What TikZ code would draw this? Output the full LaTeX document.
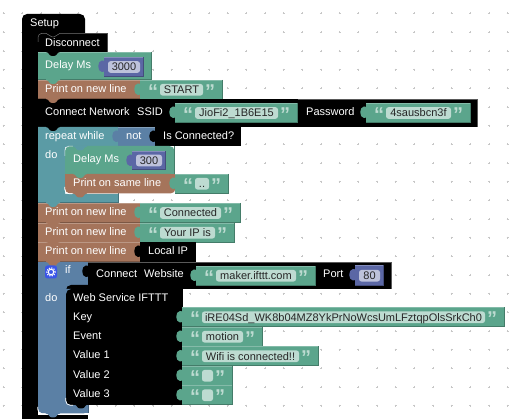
\documentclass[tikz,border=0pt]{standalone}
\usepackage{fontspec}
\setmainfont{Liberation Sans}
\definecolor{cStr}{HTML}{5BA58C}
\definecolor{cLoop}{HTML}{5BA58C}
\definecolor{cNum}{HTML}{5B67A5}
\definecolor{cPrint}{HTML}{A5745B}
\definecolor{cRep}{HTML}{5B9BA5}
\definecolor{cLog}{HTML}{5B80A5}
\definecolor{cFieldG}{HTML}{BDDBD1}
\definecolor{cFieldP}{HTML}{BDC2DB}
\definecolor{cGear}{HTML}{3A55E8}
\tikzset{
  wt/.style={anchor=base west,inner sep=0pt,text=white,font=\fontsize{11}{13}\selectfont},
  ft/.style={anchor=base,inner sep=0pt,text=black!85,font=\fontsize{11}{13}\selectfont},
  qt/.style={anchor=base,inner sep=0pt,text=cFieldG,font=\fontsize{20}{20}\selectfont\bfseries},
  griddot/.style={draw=black!22,line width=0.5pt}
}
\newcommand{\blk}[5]{%
  \fill[#1] (#2,#3) rectangle (#4,#5);
  \draw[#1!75!white,line width=0.7pt] (#2,#3+.3) -- (#4,#3+.3);
  \draw[#1!75!black,line width=0.7pt] (#4-.3,#3) -- (#4-.3,#5-.3) -- (#2,#5-.3);
}
\newcommand{\nt}[3]{%
  \fill[#1] ({#2+8},{#3-1}) -- ({#2+8},#3) .. controls ({#2+11},#3) and ({#2+11},{#3+4}) .. ({#2+14},{#3+4}) -- ({#2+16},{#3+4}) .. controls ({#2+19},{#3+4}) and ({#2+19},#3) .. ({#2+22},#3) -- ({#2+22},{#3-1}) -- cycle;
}
\newcommand{\tb}[3]{%
  \fill[#1] ({#2+.5},{#3+4}) -- ({#2-2},{#3+3.5}) .. controls ({#2-7},{#3+3.5}) and ({#2-7},{#3+15}) .. ({#2-2},{#3+15}) -- ({#2+.5},{#3+14.5}) -- cycle;
}
% name, left, top, height, right, text
\newcommand{\strblk}[6]{%
  \tb{cStr}{#2}{#3}
  \blk{cStr}{#2}{#3}{#5}{#3+#4}
  \fill[cFieldG,rounded corners=2.5pt] ({#2+20},{#3+#4/2-5.8}) rectangle ({#5-20},{#3+#4/2+5.8});
  \node[qt] (#1o) at ({#2+13},{#3+#4/2+8.5}) {“};
  \node[qt] (#1c) at ({#5-13},{#3+#4/2+8.5}) {”};
  \node[ft] (#1) at ({(#2+#5)/2},{#3+#4/2+4}) {#6};
}
% name, left, top, right, bottom, text
\newcommand{\numblk}[6]{%
  \tb{cNum}{#2}{#3}
  \blk{cNum}{#2}{#3}{#4}{#5}
  \fill[cFieldP,rounded corners=2.5pt] ({#2+4},{(#3+#5)/2-5.8}) rectangle ({#4-4},{(#3+#5)/2+5.8});
  \node[ft] (#1) at ({(#2+#4)/2},{(#3+#5)/2+4}) {#6};
}
\begin{document}
\begin{tikzpicture}[x=1pt,y=-1pt]
\useasboundingbox (0,0) rectangle (520,419);
\fill[white] (0,0) rectangle (520,419);
\clip (0,0) rectangle (520,419);
\foreach \i in {0,...,27}{\foreach \j in {0,...,21}{
  \draw[griddot] ({3.5+18.67*\i-1},{13.5+18.67*\j}) -- ({3.5+18.67*\i+1},{13.5+18.67*\j});
  \draw[griddot] ({3.5+18.67*\i},{13.5+18.67*\j-1}) -- ({3.5+18.67*\i},{13.5+18.67*\j+1});
}}
% Setup
\fill[black,rounded corners=5pt] (22,430) -- (22,14) -- (85,14) -- (85,40) -- (22,40) -- cycle;
\fill[black] (22,25) rectangle (85,34);
\fill[black] (22,25) rectangle (38,430);
\fill[black] (38,415.5) rectangle (88,430);
\node[wt] (setup) at (30,27) {Setup};
% Disconnect
\fill[black] (38,33) rectangle (107.5,53);
\draw[black!55,line width=0.5pt,rounded corners=4pt] (38,42) -- (38,33.3) -- (46,33.3);
\draw[black!55,line width=0.5pt] (46,33.3) .. controls (49,33.3) and (49,37) .. (52,37) -- (54,37) .. controls (57,37) and (57,33.3) .. (60,33.3) -- (107.3,33.3) -- (107.3,52);
\node[wt] (disc) at (45,47) {Disconnect};
% Delay
\blk{cLoop}{38}{52}{152}{80}
\nt{black}{38}{52}
\node[wt] (delay) at (45,69) {Delay Ms};
\numblk{d3000}{104}{57}{144}{77}{3000}
% Print START
\blk{cPrint}{38}{80}{140.5}{99}
\nt{cLoop}{38}{80}
\node[wt] (p1) at (45,93) {Print on new line};
\strblk{start}{140}{80}{19.5}{223}{START}
% Connect network
\fill[black] (38,99) rectangle (478,127);
\draw[black!65,line width=0.6pt] (298,99.3) -- (477.7,99.3) -- (477.7,127);
\nt{cPrint}{38}{99}
\node[wt] (net) at (45,116) {Connect Network};
\node[wt] (ssid) at (137,116) {SSID};
\strblk{ssidv}{175}{103}{20}{298}{JioFi2\_1B6E15}
\node[wt] (pass) at (306,116) {Password};
\strblk{passv}{366}{103}{20}{471}{4sausbcn3f}
% Repeat
\fill[cRep] (38,127) -- (118.5,127) -- (118.5,147) -- (65,147) -- (65,194) -- (118.5,194) -- (118.5,203) -- (38,203) -- cycle;
\draw[cRep!75!black,line width=0.7pt] (118.2,193) -- (118.2,202.7) -- (38,202.7);
\nt{black}{38}{127}
\node[wt] (rep) at (45,140) {repeat while};
\node[wt] (repdo) at (45,159) {do};
% not
\tb{cLog}{118}{127}
\blk{cLog}{118}{127}{156}{147}
\node[wt] (nota) at (126,140) {not};
\tb{black}{155}{127}
\fill[black] (155,127) rectangle (241,146.5);
\node[wt] (isc) at (163,140) {Is Connected?};
% inner delay
\fill[cLoop,rounded corners=5pt] (65,180) -- (65,146) -- (174.5,146) -- (174.5,180) -- cycle;
\fill[cLoop] (65,165) rectangle (174.5,174);
\draw[cLoop!75!black,line width=0.7pt] (174.2,146) -- (174.2,174);
\draw[white!75!cRep,line width=0.6pt,rounded corners=4pt] (64.8,156) -- (64.8,146.2) -- (73,146.2);
\nt{cRep}{65}{146.5}
\node[wt] (d2) at (73,163) {Delay Ms};
\numblk{d300}{132}{151}{166}{170}{300}
% same line
\fill[cPrint,rounded corners=5pt] (65,174) -- (65,193.5) -- (175.5,193.5) -- (175.5,174) -- cycle;
\fill[cPrint] (65,174) rectangle (175.5,180);
\draw[white,line width=0.7pt,rounded corners=4.5pt] (64.7,187) -- (64.7,193.8) -- (72,193.8);
\nt{cLoop}{65}{174}
\nt{cPrint}{65}{193.5}
\node[wt] (p2) at (73,187) {Print on same line};
\strblk{dots}{175}{174}{19.5}{229}{..}
% three prints
\blk{cPrint}{38}{203}{140.5}{223}
\nt{cRep}{38}{203}
\node[wt] (p3) at (45,216) {Print on new line};
\strblk{conn}{140}{203}{20}{241}{Connected}
\blk{cPrint}{38}{223}{140.5}{242.5}
\nt{cPrint}{38}{223}
\node[wt] (p4) at (45,236) {Print on new line};
\strblk{yip}{140}{223}{19.5}{235}{Your IP is}
\blk{cPrint}{38}{242}{140.5}{262}
\nt{cPrint}{38}{242}
\node[wt] (p5) at (45,255) {Print on new line};
\tb{black}{140}{242}
\fill[black] (140,242) rectangle (195.5,262);
\node[wt] (lip) at (148,255) {Local IP};
% If
\fill[cLog,rounded corners=5pt] (38,262) -- (38,413.5) -- (88.5,413.5) -- (88.5,262) -- cycle;
\fill[cLog] (38,262) rectangle (88.5,272);
\fill[cLog] (70,400) rectangle (88.5,413.5);
\draw[cLog!75!black,line width=0.7pt] (88.2,405) -- (88.2,413.2);
\draw[white,line width=0.7pt,rounded corners=4.5pt] (37.7,407) -- (37.7,413.8) -- (45,413.8);
\nt{cPrint}{38}{262}
\nt{cLog}{38}{413.5}
\fill[cGear,rounded corners=2.5pt] (45,265.5) rectangle (57,278.5);
\node[circle,draw=white,line width=1.1pt,minimum size=5.5pt,inner sep=0pt] (gear) at (51,272) {};
\draw[white,line width=1.1pt,dash pattern=on 1.2pt off 1.3pt] (gear.center) circle (4.2pt);
\node[wt] (ifk) at (65,274) {if};
\node[wt] (ifdo) at (45,302) {do};
% Connect website
\tb{black}{88}{262}
\fill[black] (88,262) rectangle (392,289);
\draw[black!65,line width=0.6pt] (88,262.3) -- (391.7,262.3) -- (391.7,289);
\node[wt] (cw) at (96,278) {Connect};
\node[wt] (web) at (144,278) {Website};
\strblk{host}{196}{266}{19.5}{316}{maker.ifttt.com}
\node[wt] (port) at (323,278) {Port};
\numblk{p80}{355}{265.5}{384}{286}{80}
% Web service
\fill[black,rounded corners=5pt] (66,285) -- (66,405) -- (182.5,405) -- (182.5,285) -- cycle;
\fill[black] (88,285) rectangle (182.5,405);
\draw[white,line width=0.7pt,rounded corners=4.5pt] (65.7,398) -- (65.7,405.3) -- (73,405.3);
\nt{black}{66}{404.5}
\fill[cLog] (66,289) -- (71,289) arc[start angle=90,end angle=180,radius=5pt] -- cycle;
\node[wt] (ws) at (73,302) {Web Service IFTTT};
\node[wt] (key) at (73,321) {Key};
\node[wt] (evt) at (73,340) {Event};
\node[wt] (v1) at (73,359) {Value 1};
\node[wt] (v2) at (73,379) {Value 2};
\node[wt] (v3) at (73,398) {Value 3};
\strblk{keyv}{182}{307.5}{19.5}{505}{iRE04Sd\_WK8b04MZ8YkPrNoWcsUmLFztqpOlsSrkCh0}
\strblk{evtv}{182}{327}{19.5}{263}{motion}
\strblk{v1v}{182}{346.5}{19.5}{319}{Wifi is connected!!}
\strblk{v2v}{182}{366}{19.5}{233}{}
\strblk{v3v}{182}{385.5}{19.5}{233}{}
\end{tikzpicture}
\end{document}
